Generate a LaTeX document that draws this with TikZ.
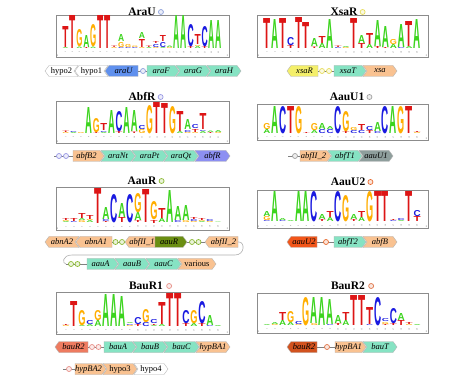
\documentclass[tikz,border=0pt]{standalone}
\usepackage{fontspec}
\setmainfont{Liberation Serif}
\newfontfamily\logofont{Liberation Sans}
\usepackage{graphicx}
\definecolor{logoA}{HTML}{3CD41E}
\definecolor{logoC}{HTML}{1A1AE0}
\definecolor{logoG}{HTML}{FFAE00}
\definecolor{logoT}{HTML}{DD1515}
\definecolor{cMint}{HTML}{86E3C3}
\definecolor{cPeach}{HTML}{F9C291}
\definecolor{cAraU}{HTML}{5F90EE}
\definecolor{cYel}{HTML}{F4EF6A}
\definecolor{cPurp}{HTML}{8C8FF2}
\definecolor{cGrey}{HTML}{8E9E9C}
\definecolor{cOlive}{HTML}{6A8E12}
\definecolor{cRed}{HTML}{F2561A}
\definecolor{cSalmon}{HTML}{EE7B60}
\definecolor{cDkOr}{HTML}{D2521E}
\definecolor{sAra}{HTML}{8EA2DC}
\definecolor{sXsa}{HTML}{E6DC5A}
\definecolor{sAbf}{HTML}{9898E4}
\definecolor{sAuA}{HTML}{A0A0A0}
\definecolor{sAaR}{HTML}{8CBA34}
\definecolor{sAuB}{HTML}{E86A2E}
\definecolor{sBaA}{HTML}{E8928A}
\definecolor{sBaB}{HTML}{E0764A}

\newcommand\lchar[3]{\resizebox{#2pt}{#3pt}{\raisebox{0pt}[\height][0pt]{\logofont\bfseries\color{logo#1}#1}}}

% #1 x0, #2 y0, #3 x1, #4 y1, #5 baseline, #6 prefix, #7 spec
\newcommand\seqlogo[7]{%
  \draw[logobox] (#1,#2) rectangle (#3,#4);
  \node[corner] (#6cf) at (#1+1.6,#4-1.6) {5};
  \node[corner] (#6ct) at (#3-1.6,#4-1.6) {3};
  \foreach \cl [count=\ci] in {#7}{\xdef\ncols{\ci}}%
  \pgfmathsetmacro\cw{(#3-#1-13)/\ncols}%
  \pgfmathsetmacro\lw{\cw-0.8}%
  \foreach \cl [count=\ci] in {#7}{%
    \pgfmathsetmacro\cx{#1+6+(\ci-0.5)*\cw}%
    \coordinate (#6s) at (\cx,#5);
    \node[colnum] (#6n\ci) at (\cx,#5+3.8) {\ci};
    \foreach \lett/\hh in \cl {%
      \node[lch] (#6L) at (#6s) {\lchar{\lett}{\lw}{\hh}};
      \coordinate (#6s) at ([yshift=0.35pt]#6L.north);
    }
  }%
}

% right-pointing gene: name, x0, x1(tip), y, fill, label, notch
\newcommand\geneR[7]{%
  \filldraw[gene,fill=#5] (#2,#4-5.5) -- (#3-4,#4-5.5) -- (#3,#4) -- (#3-4,#4+5.5) -- (#2,#4+5.5) -- (#2+#7,#4) -- cycle;
  \node[genelabel] (#1) at ({(#2+#3+#7-4)/2},#4) {#6};
  \coordinate (#1-w) at (#2,#4);
  \coordinate (#1-e) at (#3,#4);
}
% left-pointing gene: name, x0(tip), x1, y, fill, label, notch (right side)
\newcommand\geneL[7]{%
  \filldraw[gene,fill=#5] (#3,#4-5.5) -- (#2+4,#4-5.5) -- (#2,#4) -- (#2+4,#4+5.5) -- (#3,#4+5.5) -- (#3-#7,#4) -- cycle;
  \node[genelabel] (#1) at ({(#2+4+#3-#7)/2},#4) {#6};
  \coordinate (#1-w) at (#2,#4);
  \coordinate (#1-e) at (#3,#4);
}

\begin{document}
\begin{tikzpicture}[x=1pt,y=-1pt,
  logobox/.style={draw=black!45,line width=0.6pt},
  lch/.style={anchor=south,inner sep=0pt,outer sep=0pt},
  colnum/.style={rotate=90,inner sep=0pt,font=\fontsize{2}{2}\selectfont,text=black!65},
  corner/.style={inner sep=0pt,font=\fontsize{2.5}{2.5}\selectfont,text=black!70},
  gene/.style={draw=black!30,line width=0.35pt},
  genelabel/.style={inner sep=0pt,font=\fontsize{8.5}{9}\selectfont\itshape},
  ttl/.style={inner sep=0pt,font=\fontsize{11.5}{12}\selectfont\bfseries},
  lnk/.style={draw=black!50,line width=0.6pt},
  site/.style={circle,draw=#1,fill=#1!18,line width=0.7pt,minimum size=5pt,inner sep=0pt},
]
\useasboundingbox (0,0) rectangle (474,390);
\fill[white] (0,0) rectangle (474,390);

% ---------------- AraU ----------------
\node[ttl] (tAraU) at (142,12) {AraU};
\node[site=sAra] (cAraUt) at ([xshift=5pt]tAraU.east) {};
\seqlogo{56}{15}{229}{57}{48.5}{a}{{A/1,T/21},{T/33},{A/1.5,G/17},{T/1,A/12},{A/1.5,G/22},{T/33},{T/33},{G/1,T/1.5},{C/1,G/5,A/7},{C/1,G/3},{C/1,G/1.5},{G/1,T/8,A/6},{A/1,T/1.5},{G/1,C/3,T/2},{A/1,C/5,T/6},{G/1,A/1.5},{A/33},{A/33},{T/2,C/22},{A/2,G/1,T/10},{T/2,C/20},{A/28},{A/28}}
\geneL{hypoB}{45}{78}{71}{white}{\textup{hypo2}}{4}
\geneL{hypoA}{75}{108}{71}{white}{\textup{hypo1}}{4}
\geneL{araU}{105}{138}{71}{cAraU}{araU}{0}
\geneR{araF}{147}{179}{71}{cMint}{araF}{0}
\geneR{araG}{176}{210}{71}{cMint}{araG}{4}
\geneR{araH}{207}{241}{71}{cMint}{araH}{4}
\draw[lnk] (araU-e) -- (araF-w);
\node[site=sAra] (sA1) at (143,71) {};

% ---------------- XsaR ----------------
\node[ttl] (tXsaR) at (344,12) {XsaR};
\node[site=sXsa] (cXsaRt) at ([xshift=5pt]tXsaR.east) {};
\seqlogo{257}{15}{428}{57}{48.5}{x}{{T/30},{A/29},{T/30},{T/3,C/8},{T/31},{T/26},{T/1.5,A/8},{A/5,T/7},{A/29},{C/1,T/1.5},{G/1,A/1},{T/30},{T/5,A/8},{A/4,T/11},{T/2,A/26},{T/1,A/21},{A/4,G/5},{C/1,A/23},{A/2,T/25},{A/29}}
\geneL{xsaR}{287}{318}{71}{cYel}{xsaR}{0}
\geneR{xsaT}{334}{366}{71}{cMint}{xsaT}{0}
\geneR{xsa}{363}{397}{71}{cPeach}{xsa}{4}
\draw[lnk] (xsaR-e) -- (xsaT-w);
\node[site=sXsa] (sX1) at (322,71) {};
\node[site=sXsa] (sX2) at (329,71) {};

% ---------------- AbfR ----------------
\node[ttl] (tAbfR) at (142,97) {AbfR};
\node[site=sAbf] (cAbfRt) at ([xshift=5pt]tAbfR.east) {};
\seqlogo{56}{101}{229}{143}{133.5}{b}{{G/1,T/1.5},{A/1,C/1},{G/1},{A/26},{T/1,G/14},{A/1,C/1,T/7},{A/23},{T/2,C/20},{A/26},{T/1.5,A/21},{G/4,C/4},{G/28},{T/31},{T/30},{G/27},{A/2,T/20},{G/1,C/2,A/10},{G/1,T/3,C/4},{A/2,C/1,T/16},{T/1,A/1.5},{G/1,A/2}}
\coordinate (abfL) at (54,156);
\geneR{abfBb}{73}{104}{156}{cPeach}{abfB2}{0}
\geneR{araNt}{101}{135}{156}{cMint}{araNt}{4}
\geneR{araPt}{132}{167}{156}{cMint}{araPt}{4}
\geneR{araQt}{164}{198}{156}{cMint}{araQt}{4}
\geneR{abfR}{195}{230}{156}{cPurp}{abfR}{4}
\draw[lnk] (abfL) -- (abfBb-w);
\node[site=sAbf] (sB1) at (59,156) {};
\node[site=sAbf] (sB2) at (66,156) {};

% ---------------- AauU1 ----------------
\node[ttl] (tAauUa) at (347,97) {AauU1};
\node[site=sAuA] (cAauUat) at ([xshift=5pt]tAauUa.east) {};
\seqlogo{257}{104}{428}{140}{133.5}{c}{{A/4,G/6},{A/27},{C/27},{T/27},{G/27},{T/1},{A/3,G/7},{C/4,A/6},{C/4,A/3},{C/27},{T/2,G/20},{C/3,G/3},{C/3,T/6},{T/3,C/4},{C/2,A/9},{C/27},{A/27},{G/27},{T/27},{G/1,T/1}}
\coordinate (auL) at (288,156);
\geneR{abfIIc}{300}{331}{156}{cPeach}{abfII\_2}{0}
\geneR{abfTa}{328}{362}{156}{cMint}{abfT1}{4}
\geneR{aauUa}{359}{393}{156}{cGrey}{aauU1}{4}
\draw[lnk] (auL) -- (abfIIc-w);
\node[site=sAuA] (sC1) at (295,156) {};

% ---------------- AauR ----------------
\node[ttl] (tAauR) at (142,181) {AauR};
\node[site=sAaR] (cAauRt) at ([xshift=5pt]tAauR.east) {};
\seqlogo{56}{187}{229}{230}{223}{d}{{A/1,G/1,T/2},{C/1,T/3},{G/2,A/2,T/5},{A/2,G/1,T/4},{T/35},{T/1,C/2,A/12},{C/28},{T/5,A/14},{C/28},{T/2,A/8,G/19},{T/33},{T/3,G/18},{A/4,T/10},{A/32},{C/2,A/14},{G/2,A/15},{G/1,C/2,T/2},{A/1,G/1,T/2},{G/1,C/2},{A/0.5}}
\geneL{abnAb}{45}{79}{242}{cPeach}{abnA2}{4}
\geneL{abnAa}{76}{112}{242}{cPeach}{abnA1}{0}
\geneL{abfIIa}{125}{155}{242}{cPeach}{abfII\_1}{0}
\geneR{aauR}{155}{187}{242}{cOlive}{aauR}{0}
\geneL{abfIIb}{205}{238}{242}{cPeach}{abfII\_2}{0}
\draw[lnk] (abnAa-e) -- (abfIIa-w);
\draw[lnk] (aauR-e) -- (abfIIb-w);
\node[site=sAaR] (sD1) at (115.5,242) {};
\node[site=sAaR] (sD2) at (122,242) {};
\node[site=sAaR] (sD3) at (192,242) {};
\node[site=sAaR] (sD4) at (198.5,242) {};
\coordinate (wrapL) at (66,264);
\geneR{aauA}{87}{118}{264}{cMint}{aauA}{0}
\geneR{aauB}{115}{149}{264}{cMint}{aauB}{4}
\geneR{aauC}{146}{181}{264}{cMint}{aauC}{4}
\geneR{various}{178}{216}{264}{cPeach}{\textup{various}}{4}
\draw[draw=black!30,line width=0.6pt] (abfIIb-e) -- (239,242) .. controls (245,242) and (245,255) .. (235,255) -- (72,255) .. controls (62,255) and (62,264) .. (wrapL);
\draw[lnk] (wrapL) -- (aauA-w);
\node[site=sAaR] (sD5) at (71,264) {};
\node[site=sAaR] (sD6) at (77.5,264) {};

% ---------------- AauU2 ----------------
\node[ttl] (tAauUb) at (348,182) {AauU2};
\node[site=sAuB] (cAauUbt) at ([xshift=5pt]tAauUb.east) {};
\seqlogo{257}{190}{428}{228}{222}{e}{{C/1,G/4,A/5},{A/30},{C/1,A/2},{A/1},{A/30},{A/30},{C/30},{T/2,A/5},{A/4,T/6},{C/30},{G/26},{T/2,A/5},{A/4,T/6},{G/30},{T/30},{T/30},{C/1,T/1},{A/1,C/2},{T/30},{T/5,C/6}}
\geneL{aauUb}{287}{317}{242}{cRed}{aauU2}{0}
\geneR{abfTb}{334}{366}{242}{cMint}{abfT2}{0}
\geneR{abfB}{363}{397}{242}{cPeach}{abfB}{4}
\draw[lnk] (aauUb-e) -- (abfTb-w);
\node[site=sAuB] (sE1) at (326,242) {};

% ---------------- BauR1 ----------------
\node[ttl] (tBauRa) at (146,286) {BauR1};
\node[site=sBaA] (cBauRat) at ([xshift=6pt]tBauRa.east) {};
\seqlogo{56}{292}{229}{334}{326.5}{f}{{G/1,T/1},{T/25},{A/1,G/15},{A/2,C/4},{A/6,G/10},{A/32},{A/32},{A/30},{G/1,C/1,A/1},{T/2,C/7},{C/4,G/13},{A/1,T/1,C/4},{A/2,T/22},{T/33},{T/33},{T/3,C/13},{A/3,G/13},{T/3,C/22},{C/1,A/10},{A/1}}
\geneL{bauRa}{55}{88}{347}{cSalmon}{bauR2}{0}
\geneR{bauA}{104}{136}{347}{cMint}{bauA}{0}
\geneR{bauB}{133}{167}{347}{cMint}{bauB}{4}
\geneR{bauC}{164}{199}{347}{cMint}{bauC}{4}
\geneR{hypBAa}{196}{230}{347}{cPeach}{hypBA1}{4}
\draw[lnk] (bauRa-e) -- (bauA-w);
\node[site=sBaA] (sF1) at (92,347) {};
\node[site=sBaA] (sF2) at (98.5,347) {};
\coordinate (bL) at (63,369);
\geneR{hypBAb}{75}{106}{369}{cPeach}{hypBA2}{0}
\geneR{hypoC}{103}{137}{369}{cPeach}{\textup{hypo3}}{4}
\geneR{hypoD}{134}{168}{369}{white}{\textup{hypo4}}{4}
\draw[lnk] (bL) -- (hypBAb-w);
\node[site=sBaA] (sF3) at (69,369) {};

% ---------------- BauR2 ----------------
\node[ttl] (tBauRb) at (348,286) {BauR2};
\node[site=sBaB] (cBauRbt) at ([xshift=6pt]tBauRb.east) {};
\seqlogo{257}{293}{428}{333}{325.5}{g}{{A/1},{G/1,A/2},{A/5,T/8},{A/3,G/11},{G/1,C/3},{G/28},{G/2,A/26},{A/28},{C/1,A/25},{T/2,A/8},{A/5,T/8},{T/30},{T/30},{C/1,T/17},{C/28},{T/1,G/2,C/3},{T/2,C/15},{T/5,A/7},{G/1,T/2},{A/1}}
\geneL{bauRb}{287}{317}{347}{cDkOr}{bauR2}{0}
\geneR{hypBAc}{335}{366}{347}{cPeach}{hypBA1}{0}
\geneR{bauT}{363}{397}{347}{cMint}{bauT}{4}
\draw[lnk] (bauRb-e) -- (hypBAc-w);
\node[site=sBaB] (sG1) at (327,347) {};
\end{tikzpicture}
\end{document}
